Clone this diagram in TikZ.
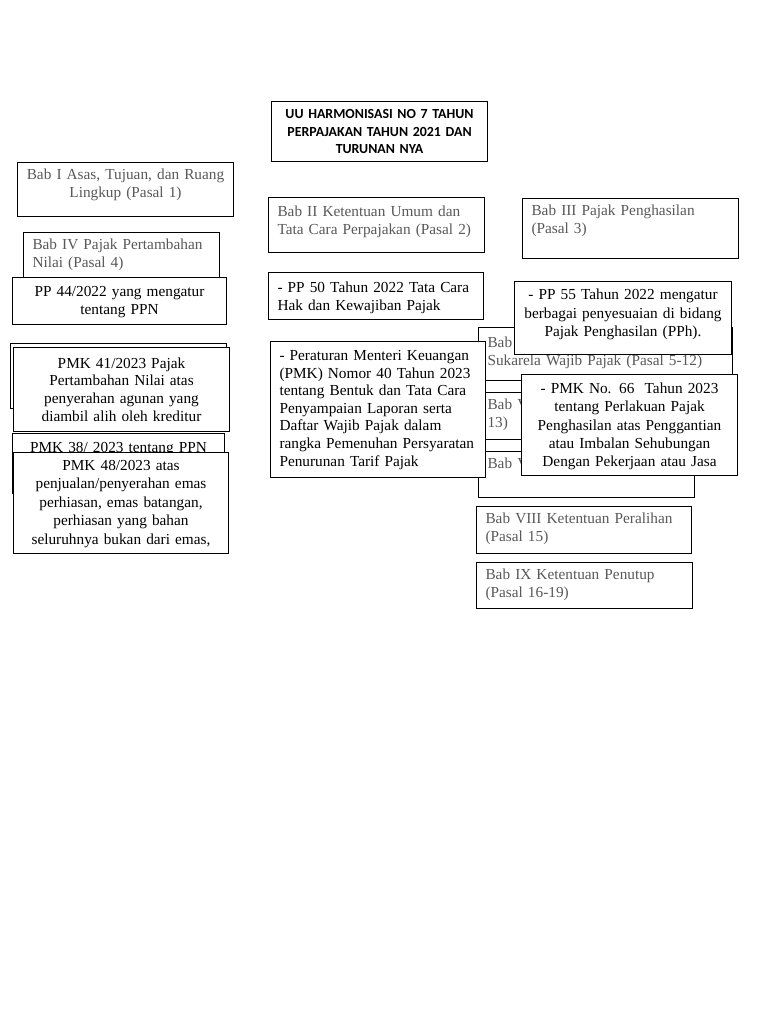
\documentclass[tikz,border=0pt]{standalone}
\usepackage{fontspec}
\setmainfont{Liberation Serif}
\newfontfamily\judulfont{Carlito}
\usepackage{xcolor}
\usepackage{tikz}

\definecolor{abu}{RGB}{89,89,89}
\tikzset{
  kotak/.style={draw, line width=1pt, fill=white, anchor=north west, inner xsep=9pt, inner ysep=0pt, text height=17pt, font=\fontsize{15.3}{17.6}\selectfont},
  bab/.style={kotak, text=abu, align=left},
  aturan/.style={kotak, align=center},
  judul/.style={kotak, align=center, text height=17.5pt, font=\judulfont\bfseries\fontsize{13.9}{17.5}\selectfont}
}

\begin{document}
\begin{tikzpicture}[x=1pt, y=-1pt]
\useasboundingbox (0,0) rectangle (768,1024);

\node (uu) [judul, text width=198pt, text depth=42.5pt] at (271,101) {UU HARMONISASI NO 7 TAHUN\\PERPAJAKAN TAHUN 2021 DAN\\TURUNAN NYA};

\node (bab1) [bab, align=center, text width=198pt, text depth=37pt] at (17,162) {Bab I Asas, Tujuan, dan Ruang\\Lingkup (Pasal 1)};
\node (bab4) [bab, text width=178pt, text depth=33pt] at (23,232) {Bab IV Pajak Pertambahan\\Nilai (Pasal 4)};
\node (pp44) [aturan, text height=19pt, text width=196pt, text depth=28pt] at (12,277) {PP 44/2022 yang mengatur\\tentang PPN};
\node (tersembunyi) [kotak, text width=198pt, text depth=48pt] at (10,343) {};
\node (pmk41) [aturan, text height=20.5pt, text width=198pt, text depth=63.5pt, font=\fontsize{15.3}{17.9}\selectfont] at (13,347) {PMK 41/2023 Pajak\\Pertambahan Nilai atas\\penyerahan agunan yang\\diambil alih oleh kreditur};
\node (pmk38) [aturan, text height=19pt, text width=194pt, text depth=41pt] at (12,433) {PMK 38/ 2023 tentang PPN};
\node (pmk48) [aturan, text height=17.5pt, text width=197pt, text depth=83.5pt, font=\fontsize{15.3}{18.6}\selectfont] at (13,452) {PMK 48/2023 atas\\penjualan/penyerahan emas\\perhiasan, emas batangan,\\perhiasan yang bahan\\seluruhnya bukan dari emas,};

\node (bab2) [bab, text height=19pt, text width=198pt, text depth=36pt] at (268,197) {Bab II Ketentuan Umum dan\\Tata Cara Perpajakan (Pasal 2)};
\node (pp50) [aturan, align=left, text height=20pt, text width=197pt, text depth=27pt] at (268,272) {- PP 50 Tahun 2022 Tata Cara\\Hak dan Kewajiban Pajak};

\node (bab5) [bab, text height=20pt, text width=236pt, text depth=33pt] at (478,327) {Bab\\Sukarela Wajib Pajak (Pasal 5-12)};
\node (bab6) [bab, text width=198pt, text depth=30pt] at (478,392) {Bab V\\13)};
\node (bab7) [bab, text width=198pt, text depth=29pt] at (478,451) {Bab V};
\node (pmk40) [aturan, align=left, text height=19pt, text width=197pt, text depth=117pt] at (270,341) {- Peraturan Menteri Keuangan\\(PMK) Nomor 40 Tahun 2023\\tentang Bentuk dan Tata Cara\\Penyampaian Laporan serta\\Daftar Wajib Pajak dalam\\rangka Pemenuhan Persyaratan\\Penurunan Tarif Pajak};

\node (bab3) [bab, text width=198pt, text depth=43pt] at (522,198) {Bab III Pajak Penghasilan\\(Pasal 3)};
\node (pp55) [aturan, text height=18pt, text width=199pt, text depth=55pt, font=\fontsize{15.3}{18.5}\selectfont] at (514,281) {- PP 55 Tahun 2022 mengatur\\berbagai penyesuaian di bidang\\Pajak Penghasilan (PPh).};
\node (pmk66) [aturan, text height=19pt, text width=198pt, text depth=82pt, font=\fontsize{15.3}{18.3}\selectfont] at (521,374) {- PMK No. 66\ \ Tahun 2023\\tentang Perlakuan Pajak\\Penghasilan atas Penggantian\\atau Imbalan Sehubungan\\Dengan Pekerjaan atau Jasa};

\node (bab8) [bab, text width=197pt, text depth=30pt] at (476,506) {Bab VIII Ketentuan Peralihan\\(Pasal 15)};
\node (bab9) [bab, text width=198pt, text depth=29pt] at (476,562) {Bab IX Ketentuan Penutup\\(Pasal 16-19)};
\end{tikzpicture}
\end{document}
